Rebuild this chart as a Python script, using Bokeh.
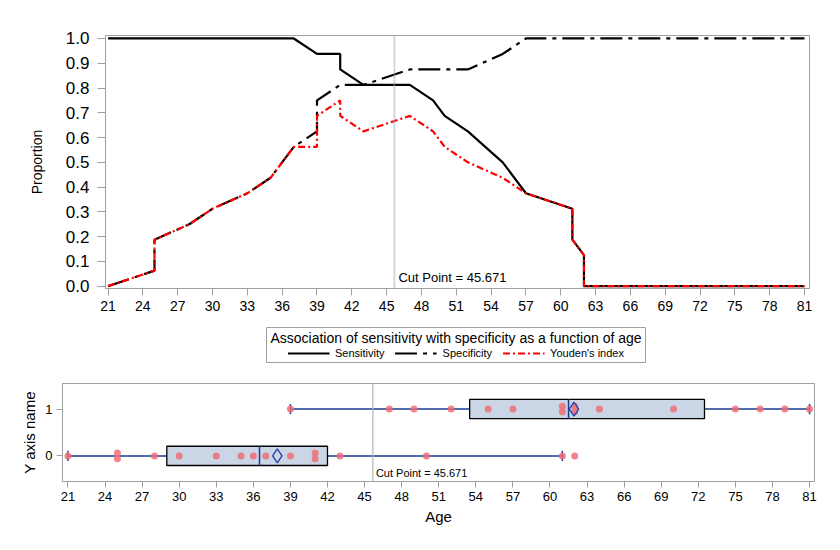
import numpy as np
from bokeh.plotting import figure
from bokeh.models import Span, Label, Legend, LegendItem, FixedTicker, Range1d
from bokeh.layouts import column
from bokeh.embed import file_html
from bokeh.resources import INLINE

FONT = "Liberation Sans"

# ---------------- data ----------------
ages = [21, 25, 25, 28, 30, 33, 35, 37, 39, 39, 41, 41, 43, 47, 49, 50, 52, 55, 57, 61, 61, 62, 62, 81]
sensitivity = [1, 1, 1, 1, 1, 1, 1, 1, 0.9375, 0.9375, 0.9375, 0.875, 0.8125, 0.8125, 0.75,
               0.6875, 0.625, 0.5, 0.375, 0.3125, 0.1875, 0.125, 0, 0]
specificity = [0, 0.0625, 0.1875, 0.25, 0.3125, 0.375, 0.4375, 0.5625, 0.625, 0.75, 0.8125, 0.8125,
               0.8125, 0.875, 0.875, 0.875, 0.875, 0.9375, 1, 1, 1, 1, 1, 1]
youden = [0, 0.0625, 0.1875, 0.25, 0.3125, 0.375, 0.4375, 0.5625, 0.5625, 0.6875, 0.75, 0.6875,
          0.625, 0.6875, 0.625, 0.5625, 0.5, 0.4375, 0.375, 0.3125, 0.1875, 0.125, 0, 0]
cut_point = 45.671

x_ticks = [21, 24, 27, 30, 33, 36, 39, 42, 45, 48, 51, 54, 57, 60, 63, 66, 69, 72, 75, 78, 81]
y_ticks = [0.0, 0.1, 0.2, 0.3, 0.4, 0.5, 0.6, 0.7, 0.8, 0.9, 1.0]

group_values = [0, 1]
group0_ages = [21, 25, 25, 28, 30, 33, 35, 36, 37, 39, 41, 41, 43, 50, 61, 62]
group1_ages = [39, 47, 49, 52, 55, 57, 61, 61, 62, 62, 64, 70, 75, 77, 79, 81]
box_q1 = [29, 53.5]
box_median = [36.5, 61.5]
box_q3 = [42, 72.5]
box_mean = [37.94, 61.94]
whisker_low = [21, 39]
whisker_high = [61, 81]

GRAY = "#A0A0A0"
NAVY = "#1A3C8E"

# ---------------- top figure ----------------
p = figure(frame_width=704, frame_height=253, min_border_left=105, min_border_right=15,
           min_border_top=35, min_border_bottom=34, frame_align=False,
           x_range=Range1d(20.78, 81.43), y_range=Range1d(-0.0095, 1.012),
           output_backend="svg", toolbar_location=None)
p.grid.visible = False
p.outline_line_color = GRAY
p.background_fill_color = "white"
p.border_fill_color = "white"

p.xaxis.ticker = FixedTicker(ticks=x_ticks)
p.yaxis.ticker = FixedTicker(ticks=y_ticks)
p.yaxis.major_label_overrides = {t: f"{t:.1f}" for t in y_ticks}
for ax in (p.xaxis[0], p.yaxis[0]):
    ax.axis_line_color = GRAY
    ax.major_tick_line_color = GRAY
    ax.minor_tick_line_color = None
    ax.major_tick_in = 0
    ax.major_label_text_font = FONT
    ax.major_label_text_color = "black"
    ax.axis_label_text_font = FONT
    ax.axis_label_text_font_style = "normal"
    ax.axis_label_text_color = "black"
p.xaxis.major_tick_out = 7
p.xaxis.major_label_standoff = 5
p.xaxis.major_label_text_font_size = "14px"
p.yaxis.major_tick_out = 8
p.yaxis.major_label_standoff = 8
p.yaxis.major_label_text_font_size = "17px"
p.yaxis.axis_label = "Proportion"
p.yaxis.axis_label_text_font_size = "14px"
p.yaxis.axis_label_standoff = 18

p.add_layout(Span(location=cut_point, dimension="height", line_color="#A8A8A8",
                  line_dash="1 1", line_width=1.8))
p.add_layout(Label(x=cut_point, y=0, x_offset=4, y_offset=1, text="Cut Point = 45.671",
                   text_font=FONT, text_font_size="13px", text_baseline="bottom",
                   text_color="black"))

SENS_STYLE = dict(line_color="black", line_width=2.2)
SPEC_STYLE = dict(line_color="black", line_width=2.2, line_dash="22 6 4 6")
YOU_STYLE = dict(line_color="#FF0000", line_width=2.2, line_dash="7 3 2 3")

p.line(ages, sensitivity, **SENS_STYLE)
p.line(ages, specificity, **SPEC_STYLE)
p.line(ages, youden, **YOU_STYLE)

# ---------------- legend figure ----------------
leg = figure(frame_width=379, frame_height=35, min_border_left=266, min_border_right=179,
             min_border_top=5, min_border_bottom=10, frame_align=False,
             x_range=Range1d(0, 1), y_range=Range1d(0, 1),
             x_axis_type=None, y_axis_type=None,
             output_backend="svg", toolbar_location=None)
leg.grid.visible = False
leg.outline_line_color = GRAY
# the series are drawn here outside the visible range; only their legend samples show
r1 = leg.line(ages, sensitivity, **SENS_STYLE)
r2 = leg.line(ages, specificity, **SPEC_STYLE)
r3 = leg.line(ages, youden, **YOU_STYLE)
leg.add_layout(Label(x=0.5, y=0.69, text="Association of sensitivity with specificity as a function of age",
                     text_font=FONT, text_font_size="14px", text_align="center",
                     text_baseline="middle", text_color="black"))
legend = Legend(items=[LegendItem(label="Sensitivity", renderers=[r1]),
                       LegendItem(label="Specificity", renderers=[r2]),
                       LegendItem(label="Youden's index", renderers=[r3])],
                location="bottom_center", orientation="horizontal",
                border_line_color=None, background_fill_alpha=0,
                padding=0, margin=3, spacing=10, label_standoff=6,
                glyph_width=42, glyph_height=12, label_height=12,
                label_text_font=FONT, label_text_font_size="11px", label_text_color="black")
leg.add_layout(legend, "center")

# ---------------- bottom figure ----------------
b = figure(frame_width=752, frame_height=98, min_border_left=62, min_border_right=10,
           min_border_top=11, min_border_bottom=45, frame_align=False,
           x_range=Range1d(20.56, 81.4), y_range=Range1d(-0.547, 1.545),
           output_backend="svg", toolbar_location=None)
b.grid.visible = False
b.outline_line_color = GRAY
b.xaxis.ticker = FixedTicker(ticks=x_ticks)
b.yaxis.ticker = FixedTicker(ticks=group_values)
for ax in (b.xaxis[0], b.yaxis[0]):
    ax.axis_line_color = GRAY
    ax.major_tick_line_color = GRAY
    ax.minor_tick_line_color = None
    ax.major_tick_in = 0
    ax.major_tick_out = 6
    ax.major_label_standoff = 4
    ax.major_label_text_font = FONT
    ax.major_label_text_font_size = "13px"
    ax.major_label_text_color = "black"
    ax.axis_label_text_font = FONT
    ax.axis_label_text_font_style = "normal"
    ax.axis_label_text_font_size = "15px"
    ax.axis_label_text_color = "black"
    ax.axis_label_standoff = 4
b.xaxis.axis_label = "Age"
b.yaxis.axis_label = "Y axis name"

b.add_layout(Span(location=cut_point, dimension="height", line_color="#B4B4B4", line_width=1.2))
b.add_layout(Label(x=cut_point, y=-0.547, x_offset=3, y_offset=3, text="Cut Point = 45.671",
                   text_font=FONT, text_font_size="11px", text_baseline="bottom",
                   text_color="black"))

# whiskers
b.segment(x0=whisker_low, y0=group_values, x1=whisker_high, y1=group_values,
          line_color=NAVY, line_width=1.5)
b.segment(x0=whisker_low, y0=[g - 0.11 for g in group_values], x1=whisker_low,
          y1=[g + 0.11 for g in group_values], line_color=NAVY, line_width=1.5)
b.segment(x0=whisker_high, y0=[g - 0.11 for g in group_values], x1=whisker_high,
          y1=[g + 0.11 for g in group_values], line_color=NAVY, line_width=1.5)
# boxes
b.hbar(y=group_values, left=box_q1, right=box_q3, height=0.41,
       fill_color="#CAD5E5", line_color="black", line_width=1.3)
b.segment(x0=box_median, y0=[g - 0.205 for g in group_values], x1=box_median,
          y1=[g + 0.205 for g in group_values], line_color=NAVY, line_width=1.5)

# points (duplicate values displaced vertically)
def displaced(vals, g):
    xs, ys = [], []
    seen = {}
    for v in vals:
        cnt = vals.count(v)
        k = seen.get(v, 0)
        seen[v] = k + 1
        off = 0.0 if cnt == 1 else (k - (cnt - 1) / 2) * 0.12
        xs.append(v)
        ys.append(g + off)
    return xs, ys

for g, vals in zip(group_values, [group0_ages, group1_ages]):
    xs, ys = displaced(vals, g)
    b.scatter(xs, ys, size=7, fill_color="#EE6E78", fill_alpha=0.85, line_color=None)

b.scatter(box_mean, group_values, marker="diamond", size=14, fill_color=None,
          line_color="#2442B0", line_width=1.4)

layout = column(p, leg, b, spacing=0)
open("out.html", "w").write(file_html(layout, INLINE))
